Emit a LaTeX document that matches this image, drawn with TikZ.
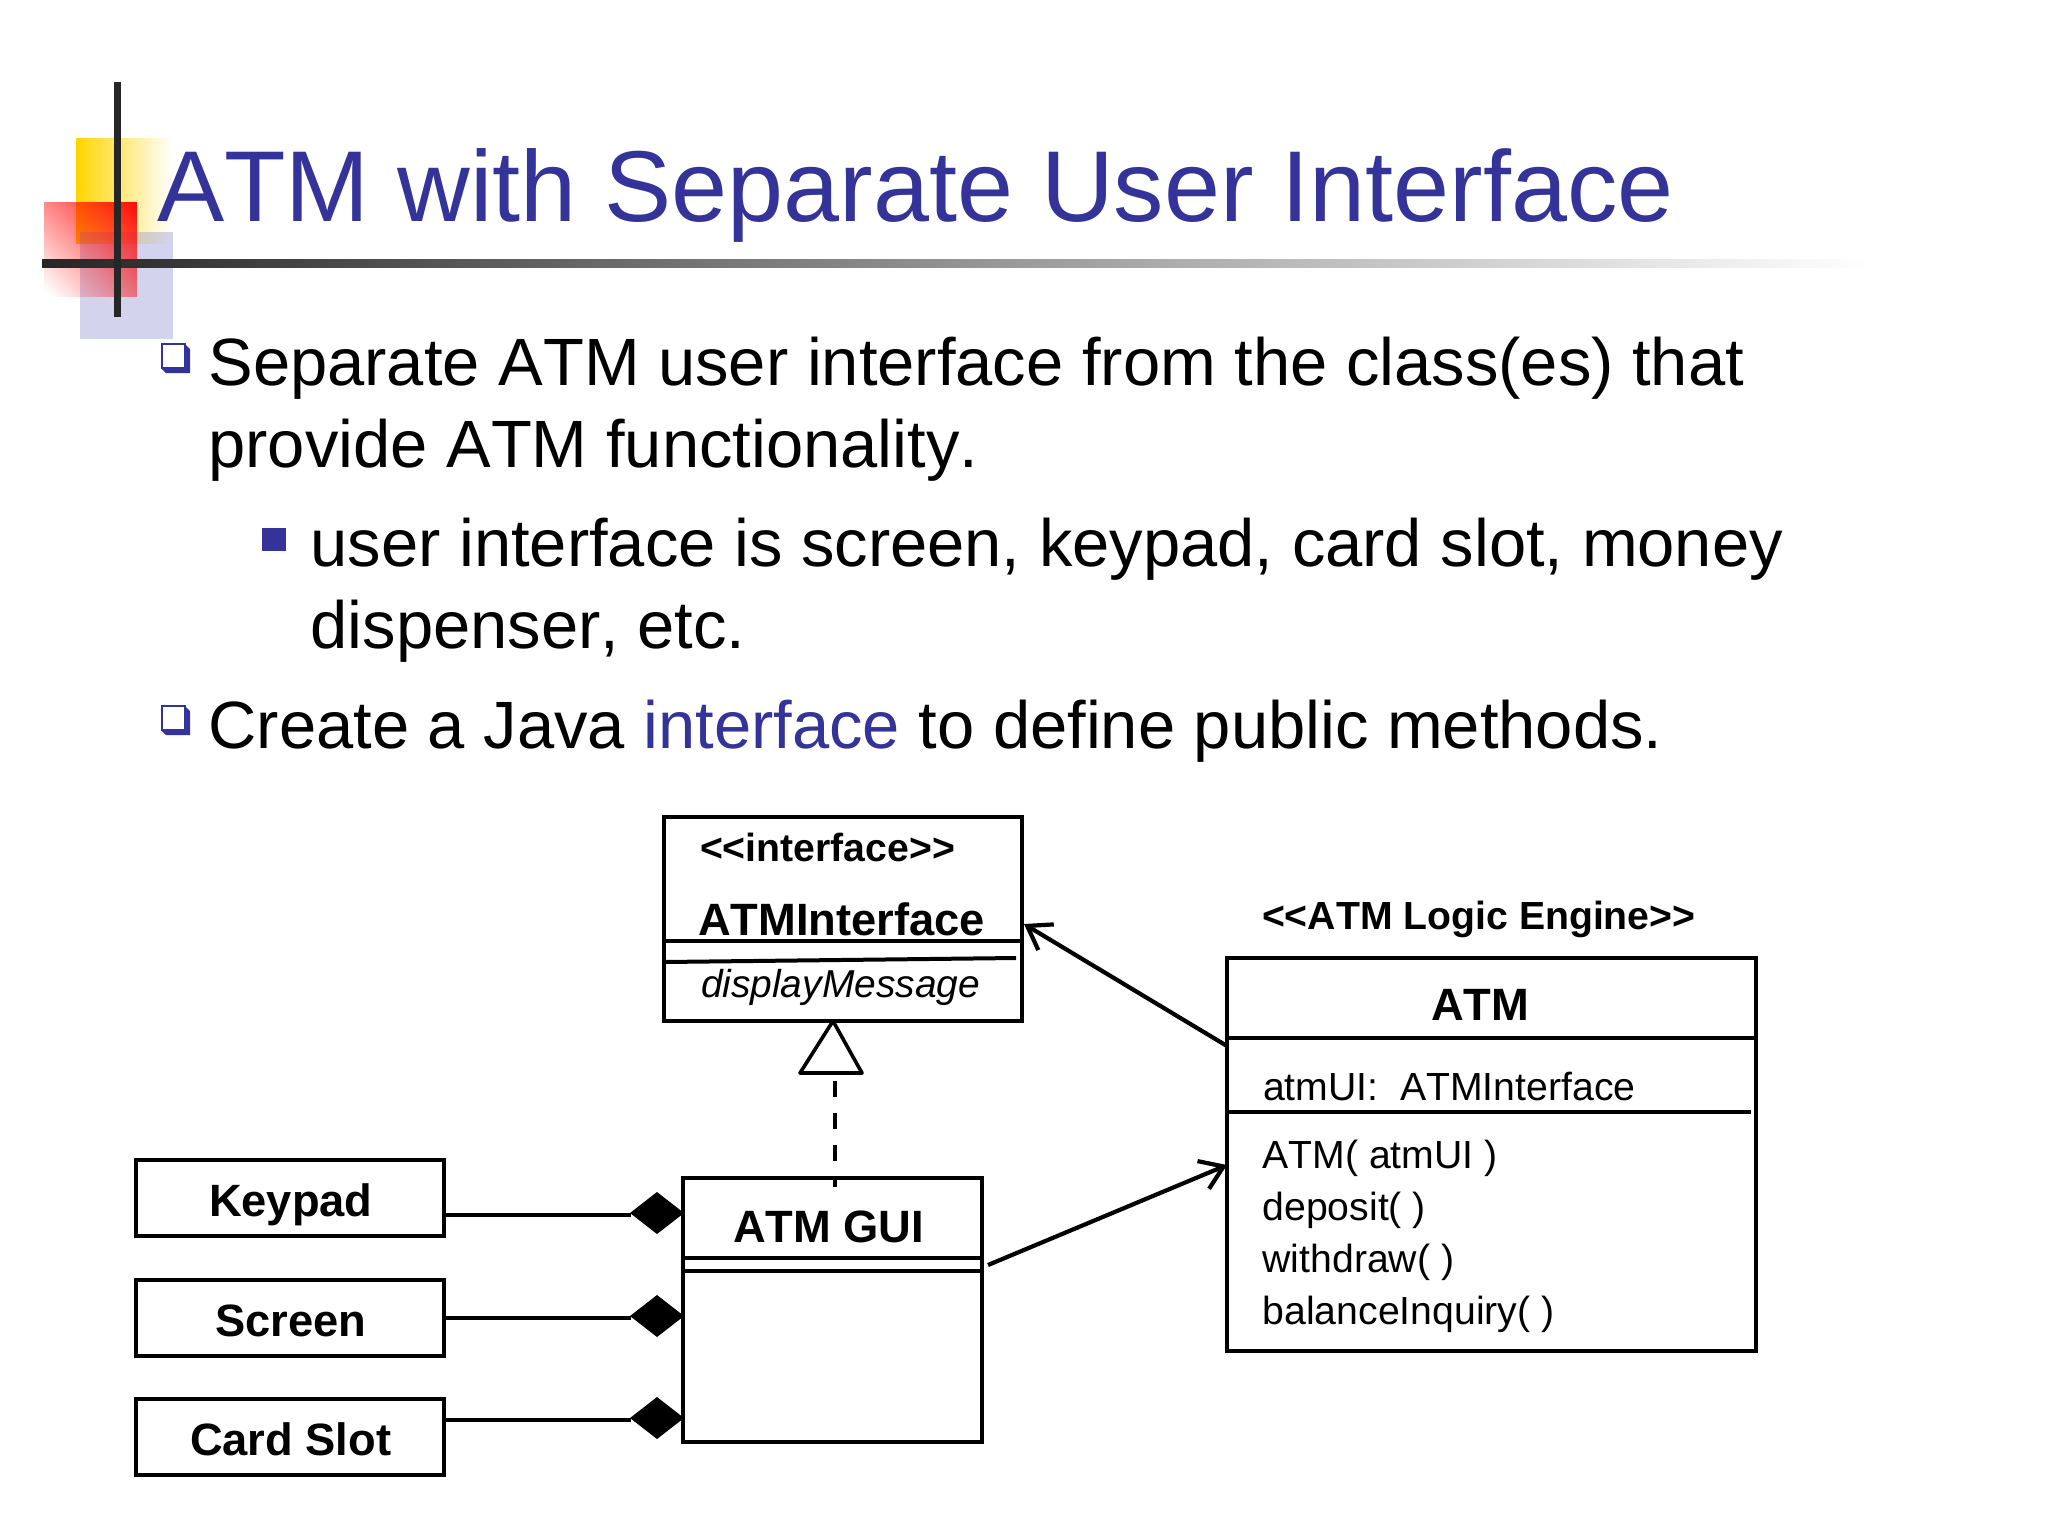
\documentclass[tikz,border=0pt]{standalone}
\usepackage{fontspec}
\setmainfont[Kerning=Off]{Liberation Sans}
\usetikzlibrary{arrows.meta,fadings,shadings,calc}
\definecolor{slideblue}{HTML}{333399}
\definecolor{barblack}{HTML}{262626}
\definecolor{tintblue}{HTML}{9393D4}
\tikzfading[name=redfade,lower left=transparent!100,upper right=transparent!0,upper left=transparent!50,lower right=transparent!50]
\tikzset{
  txt/.style={inner sep=0pt,outer sep=0pt,anchor=base west},
  titletxt/.style={txt,text=slideblue,font=\fontsize{50.35}{51}\selectfont},
  bodytxt/.style={txt,font=\fontsize{33.45}{34}\selectfont},
  umlbold/.style={txt,font=\fontsize{22.65}{23}\selectfont\bfseries},
  umlsmall/.style={txt,font=\fontsize{19.6}{20}\selectfont\bfseries},
  umlplain/.style={txt,font=\fontsize{19.6}{20}\selectfont},
  umlbox/.style={draw=black,line width=2pt,fill=white,inner sep=0pt,outer sep=0pt,anchor=north west},
  compline/.style={line width=2pt},
  assoc/.style={line width=2.1pt,-{Straight Barb[length=11pt,width=15pt,line width=2.1pt]}},
  comp/.style={line width=2.2pt},
  diam/.style={fill=black},
  hollowbullet/.style={draw=slideblue,line width=1pt,fill=white},
  solidbullet/.style={fill=slideblue},
}
\begin{document}
\begin{tikzpicture}[x=0.5pt,y=-0.5pt]
\useasboundingbox (0,0) rectangle (2048,1536);
\fill[white] (0,0) rectangle (2048,1536);
% logo
\shade[left color={rgb,255:red,255;green,213;blue,0},right color=white] (76,138) rectangle (172,243);
\fill[tintblue,fill opacity=.4] (80,232) rectangle (173,339);
\fill[red,path fading=redfade,fit fading=true] (44,202) rectangle (137,297);
\shade[left color=barblack,right color=white] (42,259) rectangle (1870,267);
\fill[barblack] (113.5,82) rectangle (120.5,317);
\node[titletxt] (title) at (157,221) {ATM with Separate User Interface};
% bullets
\draw[hollowbullet] (162,344) rectangle (185,368);
\fill[slideblue] (185,344) -- (190,349) -- (190,373) -- (166,373) -- (161,368) -- (185,368) -- cycle;
\draw[hollowbullet] (162,706) rectangle (185,730);
\fill[slideblue] (185,706) -- (190,711) -- (190,735) -- (166,735) -- (161,730) -- (185,730) -- cycle;
\fill[solidbullet] (262,528) rectangle (286,551);
% body
\node[bodytxt] (l1) at (208.5,385.5) {Separate ATM user interface from the class(es) that};
\node[bodytxt] (l2) at (208.5,467.5) {provide ATM functionality.};
\node[bodytxt] (l3) at (310.5,566.5) {user interface is screen, keypad, card slot, money};
\node[bodytxt] (l4) at (310.5,648) {dispenser, etc.};
\node[bodytxt] (l5) at (208.5,748) {Create a Java \textcolor{slideblue}{interface} to define public methods.};
% interface box
\node[umlbox,minimum width=179pt,minimum height=102pt] (iface) at (664,817) {};
\draw[compline] (iface.west |- 0,941) -- (iface.east |- 0,941);
\draw[compline] (iface.west |- 0,962) -- (1016,958);
\node[umlsmall] (ifst) at (700,861) {<{}<interface>{}>};
\node[umlbold] (ifname) at (698,935) {ATMInterface};
\node[umlplain,font=\fontsize{19.45}{20}\selectfont\itshape] (ifop) at (701,997) {displayMessage};
% ATM box
\node[umlbox,minimum width=264.5pt,minimum height=196.5pt] (atm) at (1227,958) {};
\draw[compline] (atm.west |- 0,1038) -- (atm.east |- 0,1038);
\draw[compline] (atm.west |- 0,1112) -- (1751,1112);
\node[umlsmall] (atmst) at (1262,929.5) {<{}<ATM Logic Engine>{}>};
\node[umlbold] (atmname) at (1431,1020) {ATM};
\node[umlplain] (atmattr) at (1263,1100) {atmUI:\ \ ATMInterface};
\node[umlplain] (m1) at (1262.5,1168) {ATM( atmUI )};
\node[umlplain] (m2) at (1262.5,1220) {deposit( )};
\node[umlplain] (m3) at (1262.5,1272) {withdraw( )};
\node[umlplain] (m4) at (1262.5,1324) {balanceInquiry( )};
% GUI box
\node[umlbox,minimum width=149.5pt,minimum height=132pt] (gui) at (683,1178) {};
\draw[compline] (gui.west |- 0,1258) -- (gui.east |- 0,1258);
\draw[compline] (gui.west |- 0,1271) -- (gui.east |- 0,1271);
\node[umlbold] (guiname) at (733,1242) {ATM GUI};
% part boxes
\node[umlbox,minimum width=154pt,minimum height=38pt] (keypad) at (136,1160) {};
\node[umlbold] (keypadt) at (209,1216) {Keypad};
\node[umlbox,minimum width=154pt,minimum height=38pt] (screen) at (136,1280) {};
\node[umlbold] (screent) at (215,1336) {Screen};
\node[umlbox,minimum width=154pt,minimum height=38pt] (card) at (136,1399) {};
\node[umlbold] (cardt) at (190,1455) {Card Slot};
% composition connectors
\foreach \src/\yy in {keypad/1213,screen/1316,card/1418}{
  \draw[comp] (\src.east |- 0,\yy+2) -- (631,\yy+2);
  \fill[diam] (630,\yy) -- (657,\yy-21) -- (684,\yy) -- (657,\yy+21) -- cycle;
}
% realization
\coordinate (apex) at (833,1021);
\coordinate (tl) at (800,1073);
\coordinate (tr) at (862,1073);
\draw[line width=1.8pt,line join=round,fill=white] (apex) -- (tl) -- (tr) -- cycle;
\coordinate (dashtop) at (835,1081);
\draw[line width=1.9pt,dash pattern=on 8pt off 8pt] (dashtop) -- (dashtop |- 0,1187);
% associations
\draw[assoc] (atm.west |- 0,1046) -- (1024,924);
\draw[assoc] (988,1265) -- (atm.west |- 0,1165);
\end{tikzpicture}
\end{document}
